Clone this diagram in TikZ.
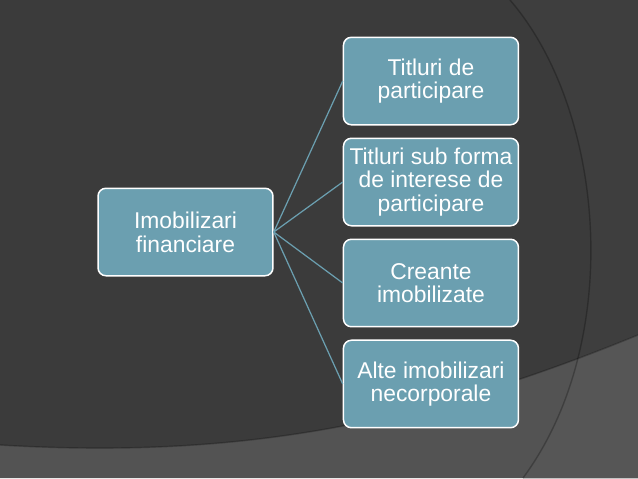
\documentclass[tikz,border=0pt]{standalone}
\usepackage{fontspec}
\setmainfont{Liberation Sans}
\usetikzlibrary{positioning}
\definecolor{slide}{HTML}{3B3B3B}
\definecolor{slideR}{HTML}{3E3E3E}
\definecolor{band}{HTML}{535353}
\definecolor{bandR}{HTML}{565656}
\definecolor{boxfill}{HTML}{6B9FB0}
\tikzset{
  box/.style={draw=white, line width=0.85pt, fill=boxfill, rounded corners=4.5pt,
    minimum width=3.5cm, minimum height=1.75cm, align=center, text=white,
    font=\fontsize{13}{13.5}\selectfont, inner sep=1pt},
  conn/.style={draw=boxfill, line width=0.7pt}
}
\begin{document}
\begin{tikzpicture}[x=0.02cm, y=-0.02cm, node distance=2.02cm, on grid]
        % background
        \useasboundingbox (0,0) rectangle (638,478);
        \fill[slide] (0,0) rectangle (638,478);
        \fill[slideR] (510,0) .. controls (605,110) and (625,340) .. (523,478) -- (638,478) -- (638,0) -- cycle;
        \fill[band] (0,445) .. controls (250,460) and (430,420) .. (638,335) -- (638,478) -- (0,478) -- cycle;
        \begin{scope}
          \clip (0,445) .. controls (250,460) and (430,420) .. (638,335) -- (638,478) -- (0,478) -- cycle;
          \fill[bandR] (510,0) .. controls (605,110) and (625,340) .. (523,478) -- (638,478) -- (638,0) -- cycle;
        \end{scope}
        \draw[black, opacity=0.25, line width=0.8pt] (510,0) .. controls (605,110) and (625,340) .. (523,478);
        \draw[black, opacity=0.25, line width=0.8pt] (0,445) .. controls (250,460) and (430,420) .. (638,335);

        % nodes
        \node[box] (imob) at (185.5,232) {Imobilizari\\financiare};
        \node[box] (titluri) [above right=3.02cm and 4.91cm of imob] {Titluri de\\participare};
        \node[box] (interese) [below=of titluri] {Titluri sub forma\\de interese de\\participare};
        \node[box] (creante) [below=of interese] {Creante\\imobilizate};
        \node[box] (alte) [below=of creante] {Alte imobilizari\\necorporale};

        \path[conn]
        (imob.east) edge (titluri.west)
        (imob.east) edge (interese.west)
        (imob.east) edge (creante.west)
        (imob.east) edge (alte.west);
\end{tikzpicture}
\end{document}
